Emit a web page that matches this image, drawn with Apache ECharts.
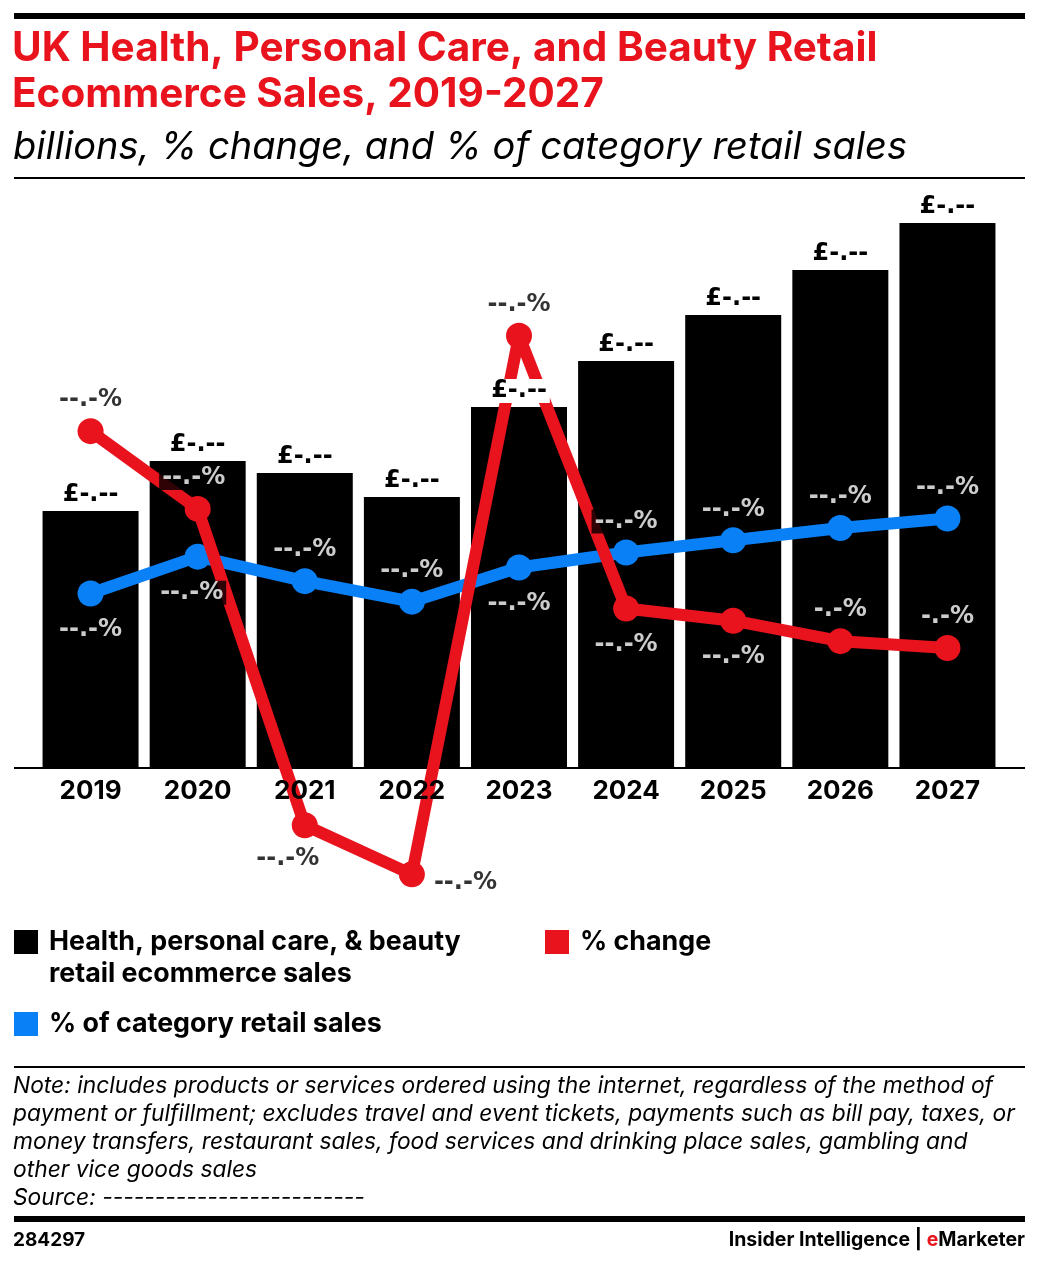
<!DOCTYPE html>
<html>
<head>
<meta charset="utf-8">
<title>UK Health, Personal Care, and Beauty Retail Ecommerce Sales</title>
<script src="https://cdn.jsdelivr.net/npm/echarts@6/dist/echarts.min.js"></script>
<style>
  html, body { margin: 0; padding: 0; background: #fff; }
  #chart { width: 1038px; height: 1265px; }
</style>
</head>
<body>
<div id="chart"></div>
<script>
// data
const years = ['2019', '2020', '2021', '2022', '2023', '2024', '2025', '2026', '2027']
const sales = [2.57, 3.07, 2.95, 2.71, 3.61, 4.07, 4.53, 4.98, 5.45]          // £ billions
const pctChange = [24.7, 19.0, -4.2, -7.8, 31.7, 11.7, 10.8, 9.3, 8.8]       // % change
const pctCategory = [12.8, 15.5, 13.7, 12.2, 14.7, 15.8, 16.7, 17.6, 18.3]   // % of category retail sales

// where each point label sits, and whether it sits on a black bar
const redLabelPos = ['top', 'top', 'bottom', 'right', 'top', 'bottom', 'bottom', 'top', 'top']
const redOnBar = [false, true, false, false, false, true, true, true, true]
const redShift = [[0, 0], [-4, 0], [-17, -3], [0, 8], [0, 0], [0, 0], [0, 0], [0, 0], [0, 0]]
const blueLabelPos = ['bottom', 'bottom', 'top', 'top', 'bottom', 'top', 'top', 'top', 'top']
const blueOnBar = [true, true, true, true, true, true, true, true, true]
const blueShift = [[0, 0], [-6, 0], [0, 0], [0, 0], [0, 0], [0, 0], [0, 0], [0, 0], [0, 0]]

const RED = '#e8131d'
const BLUE = '#0a80f7'
const FONT = 'Inter'
const LABEL_FONT = 'DejaVu Sans'

const maskPct = v => v.toFixed(1).replace(/\d/g, '-') + '%'
const maskGbp = v => '£' + v.toFixed(2).replace(/\d/g, '-')

function labelItems (values, positions, onBar, shift) {
  return values.map((v, i) => ({
    value: v,
    label: {
      position: positions[i],
      color: onBar[i] ? '#fff' : '#000',
      backgroundColor: onBar[i] ? '#000' : '#fff',
      offset: [shift[i][0], shift[i][1] + (positions[i] === 'bottom' ? 5 : 0)]
    }
  }))
}

const pctLabel = {
  show: true,
  fontFamily: LABEL_FONT,
  fontWeight: 'bold',
  fontSize: 24,
  distance: 6,
  padding: [0, 3],
  formatter: p => maskPct(p.value)
}

const dom = document.getElementById('chart')
const chart = echarts.init(dom, null, { renderer: 'canvas' })

const legendText = { color: '#000', fontFamily: FONT, fontWeight: 'bold', fontSize: 26.8, lineHeight: 32, padding: [0, 0, 0, 6] }

const option = {
  animation: false,
  backgroundColor: '#fff',
  title: [
    {
      text: 'UK Health, Personal Care, and Beauty Retail\nEcommerce Sales, 2019-2027',
      left: 12,
      top: 26,
      padding: 0,
      textStyle: { color: RED, fontFamily: FONT, fontWeight: 'bold', fontSize: 40.5, lineHeight: 46 }
    },
    {
      text: 'billions, % change, and % of category retail sales',
      left: 13,
      top: 127,
      padding: 0,
      textStyle: { color: '#000', fontFamily: FONT, fontStyle: 'italic', fontWeight: 'normal', fontSize: 38, lineHeight: 42 }
    },
    {
      text: 'Note: includes products or services ordered using the internet, regardless of the method of\n' +
        'payment or fulfillment; excludes travel and event tickets, payments such as bill pay, taxes, or\n' +
        'money transfers, restaurant sales, food services and drinking place sales, gambling and\n' +
        'other vice goods sales\n' +
        'Source: -------------------------',
      left: 13,
      top: 1072,
      padding: 0,
      textStyle: { color: '#000', fontFamily: FONT, fontStyle: 'italic', fontWeight: 'normal', fontSize: 22.8, lineHeight: 28 }
    },
    {
      text: '284297',
      left: 13,
      top: 1229,
      padding: 0,
      textStyle: { color: '#000', fontFamily: FONT, fontWeight: 'bold', fontSize: 19, lineHeight: 22 }
    },
    {
      text: '{a|Insider Intelligence | }{e|e}{a|Marketer}',
      right: 13,
      top: 1229,
      padding: 0,
      textStyle: {
        rich: {
          a: { color: '#000', fontFamily: FONT, fontWeight: 'bold', fontSize: 19.5, lineHeight: 22 },
          e: { color: RED, fontFamily: FONT, fontWeight: 'bold', fontSize: 19.5, lineHeight: 22 }
        }
      }
    }
  ],
  legend: [
    {
      data: [{ name: 'Health, personal care, & beauty retail ecommerce sales', icon: 'rect' }],
      left: 14,
      top: 894,
      padding: 0,
      itemWidth: 24,
      itemHeight: 24,
      selectedMode: false,
      formatter: () => '\nHealth, personal care, & beauty\nretail ecommerce sales',
      textStyle: legendText
    },
    {
      data: [{ name: '% change', icon: 'rect' }],
      left: 545,
      top: 926,
      padding: 0,
      itemWidth: 24,
      itemHeight: 24,
      selectedMode: false,
      textStyle: legendText
    },
    {
      data: [{ name: '% of category retail sales', icon: 'rect' }],
      left: 14,
      top: 1008,
      padding: 0,
      itemWidth: 24,
      itemHeight: 24,
      selectedMode: false,
      textStyle: legendText
    }
  ],
  graphic: [
    { type: 'rect', left: 14, top: 13, shape: { width: 1011, height: 6 }, style: { fill: '#000' } },
    { type: 'rect', left: 14, top: 177, shape: { width: 1011, height: 2 }, style: { fill: '#000' } },
    { type: 'rect', left: 14, top: 767, shape: { width: 1011, height: 2 }, style: { fill: '#000' }, z: 1 },
    { type: 'rect', left: 14, top: 1066, shape: { width: 1011, height: 2 }, style: { fill: '#000' } },
    { type: 'rect', left: 14, top: 1216, shape: { width: 1011, height: 6 }, style: { fill: '#000' } }
  ],
  grid: {
    left: 37,
    right: 37,
    top: 168,
    bottom: 497,
    containLabel: false
  },
  xAxis: {
    type: 'category',
    data: years,
    z: 10,
    axisLine: { show: false },
    axisTick: { show: false },
    axisLabel: { color: '#000', fontFamily: FONT, fontWeight: 'bold', fontSize: 26, margin: 10 }
  },
  yAxis: [
    { type: 'value', min: 0, max: 6, show: false, splitLine: { show: false } },
    { type: 'value', min: 0, max: 44, show: false, splitLine: { show: false } }
  ],
  series: [
    {
      name: 'Health, personal care, & beauty retail ecommerce sales',
      type: 'bar',
      data: sales,
      barWidth: 96,
      itemStyle: { color: '#000' },
      z: 2
    },
    {
      name: '% of category retail sales',
      type: 'line',
      yAxisIndex: 1,
      data: pctCategory,
      symbol: 'circle',
      symbolSize: 26,
      clip: false,
      itemStyle: { color: BLUE },
      lineStyle: { color: BLUE, width: 12 },
      z: 3
    },
    {
      name: '% change',
      type: 'line',
      yAxisIndex: 1,
      data: pctChange,
      symbol: 'circle',
      symbolSize: 26,
      clip: false,
      itemStyle: { color: RED },
      lineStyle: { color: RED, width: 12 },
      z: 4
    },
    // labels on top of everything, so their backgrounds cut the lines as in the original
    {
      type: 'bar',
      data: sales,
      barWidth: 96,
      barGap: '-100%',
      silent: true,
      itemStyle: { color: 'rgba(0,0,0,0)' },
      label: {
        show: true,
        position: 'top',
        distance: 4,
        color: '#000',
        backgroundColor: '#fff',
        padding: [0, 3],
        fontFamily: LABEL_FONT,
        fontWeight: 'bold',
        fontSize: 24,
        formatter: p => maskGbp(p.value)
      },
      z: 10
    },
    {
      type: 'scatter',
      yAxisIndex: 1,
      data: labelItems(pctCategory, blueLabelPos, blueOnBar, blueShift),
      symbolSize: 26,
      clip: false,
      silent: true,
      itemStyle: { color: 'rgba(0,0,0,0)' },
      label: pctLabel,
      z: 10
    },
    {
      type: 'scatter',
      yAxisIndex: 1,
      data: labelItems(pctChange, redLabelPos, redOnBar, redShift),
      symbolSize: 26,
      clip: false,
      silent: true,
      itemStyle: { color: 'rgba(0,0,0,0)' },
      label: pctLabel,
      z: 10
    }
  ]
}

chart.setOption(option)
window.addEventListener('resize', () => chart.resize())
</script>
</body>
</html>
